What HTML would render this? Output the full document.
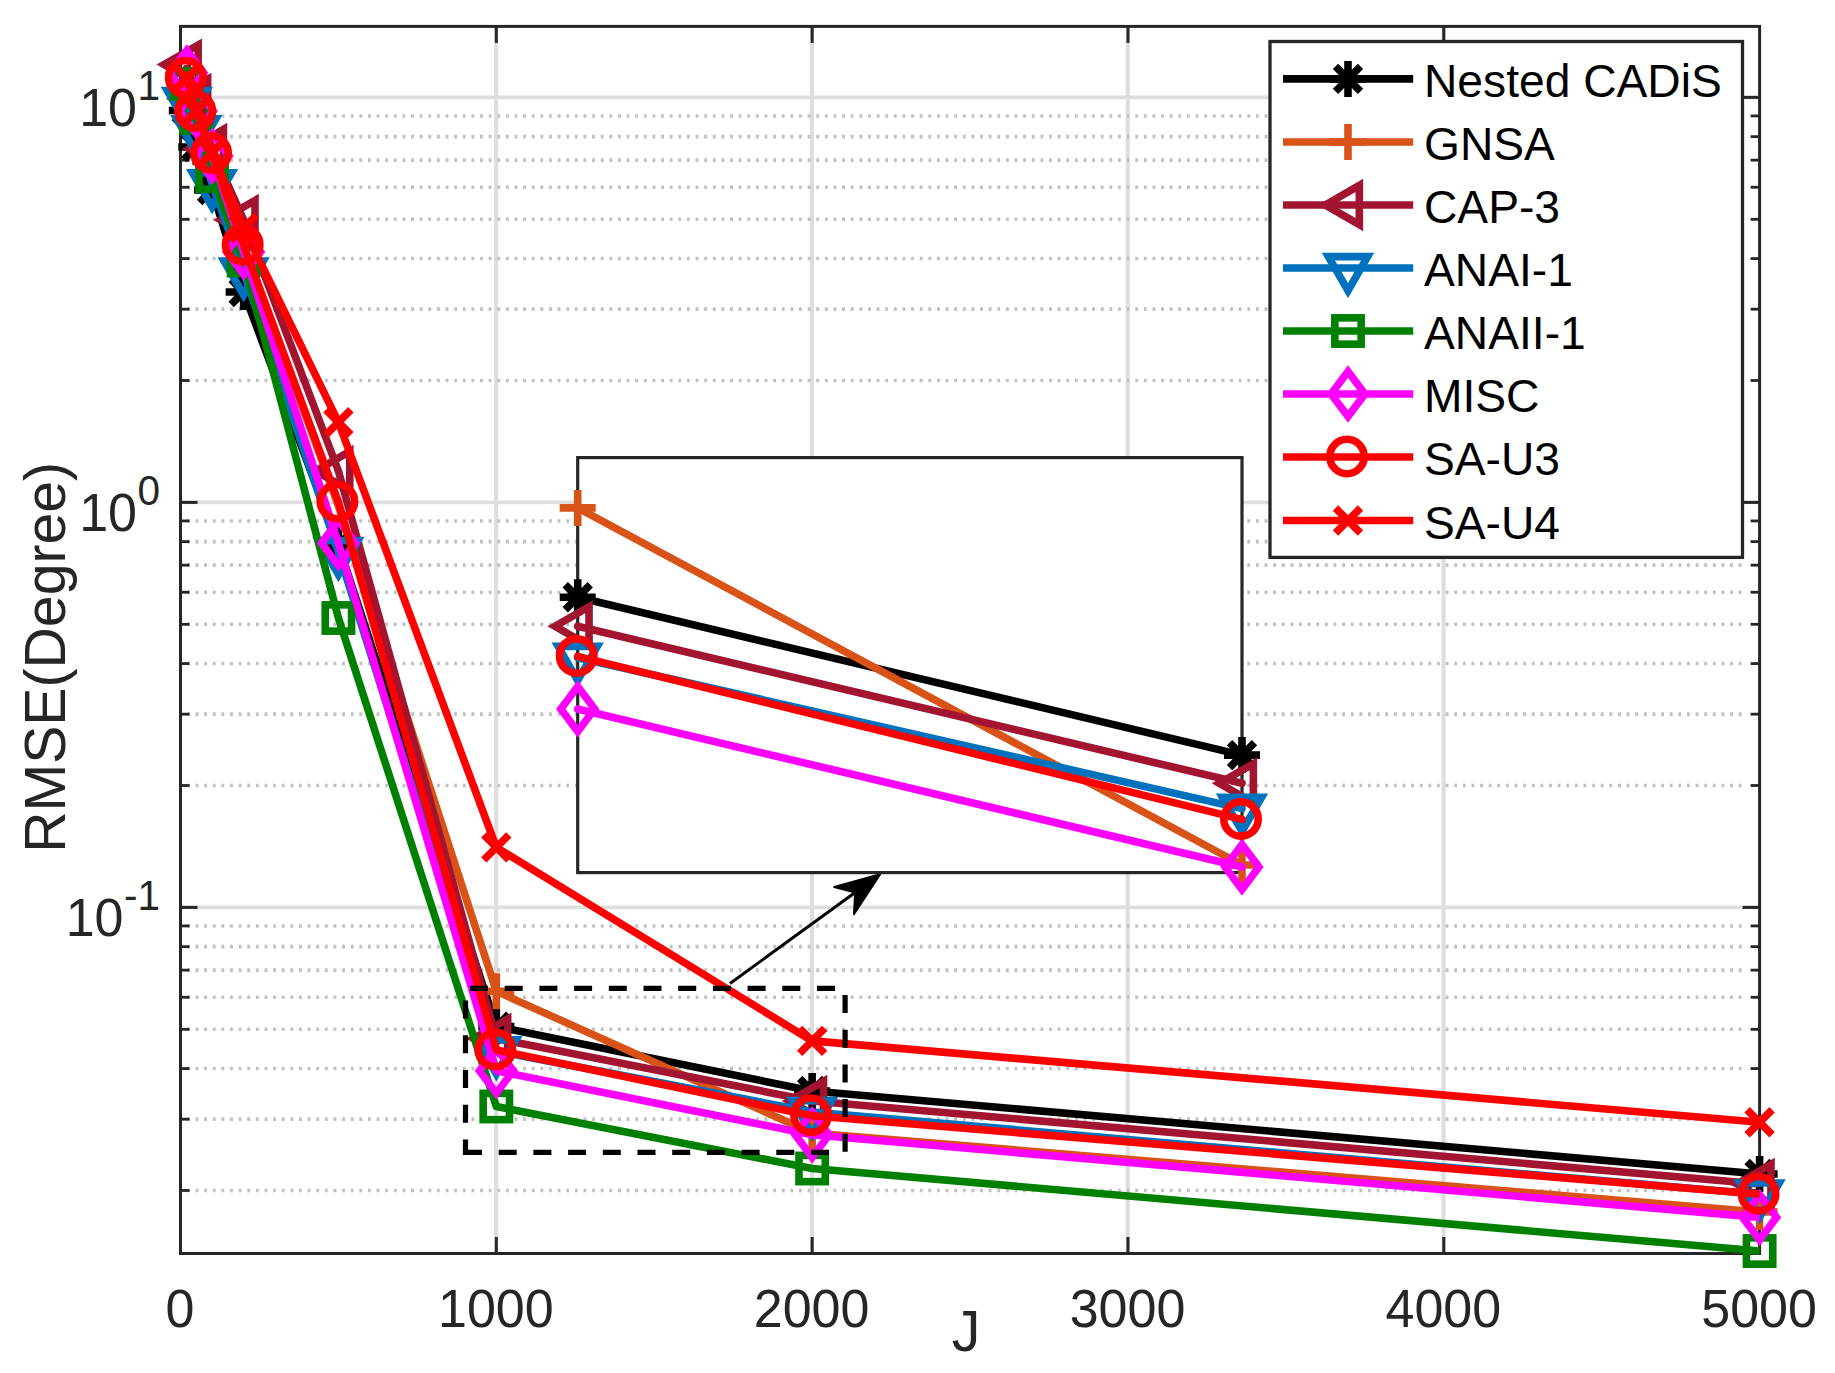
<!DOCTYPE html>
<html lang="en"><head><meta charset="utf-8"><title>RMSE versus J</title>
<style>html,body{margin:0;padding:0;background:#fff}body{width:1835px;height:1373px;overflow:hidden}</style>
</head><body>
<svg width="1835" height="1373" viewBox="0 0 1835 1373" style="display:block">
<rect x="0" y="0" width="1835" height="1373" fill="#fff"/>
<g id="grid">
<line x1="496.12" y1="26.4" x2="496.12" y2="1253.5" stroke="#dedede" stroke-width="4.1"/>
<line x1="811.94" y1="26.4" x2="811.94" y2="1253.5" stroke="#dedede" stroke-width="4.1"/>
<line x1="1127.76" y1="26.4" x2="1127.76" y2="1253.5" stroke="#dedede" stroke-width="4.1"/>
<line x1="1443.58" y1="26.4" x2="1443.58" y2="1253.5" stroke="#dedede" stroke-width="4.1"/>
<line x1="180.5" y1="97.40" x2="1759.6" y2="97.40" stroke="#dedede" stroke-width="3.6"/>
<line x1="180.5" y1="502.40" x2="1759.6" y2="502.40" stroke="#dedede" stroke-width="3.6"/>
<line x1="180.5" y1="907.40" x2="1759.6" y2="907.40" stroke="#dedede" stroke-width="3.6"/>
<line x1="186.92" y1="1190.48" x2="1745" y2="1190.48" stroke="#c2c2c2" stroke-width="3.6" stroke-dasharray="2.9 5.721"/>
<line x1="186.92" y1="1119.17" x2="1745" y2="1119.17" stroke="#c2c2c2" stroke-width="3.6" stroke-dasharray="2.9 5.721"/>
<line x1="186.92" y1="1068.57" x2="1745" y2="1068.57" stroke="#c2c2c2" stroke-width="3.6" stroke-dasharray="2.9 5.721"/>
<line x1="186.92" y1="1029.32" x2="1745" y2="1029.32" stroke="#c2c2c2" stroke-width="3.6" stroke-dasharray="2.9 5.721"/>
<line x1="186.92" y1="997.25" x2="1745" y2="997.25" stroke="#c2c2c2" stroke-width="3.6" stroke-dasharray="2.9 5.721"/>
<line x1="186.92" y1="970.14" x2="1745" y2="970.14" stroke="#c2c2c2" stroke-width="3.6" stroke-dasharray="2.9 5.721"/>
<line x1="186.92" y1="946.65" x2="1745" y2="946.65" stroke="#c2c2c2" stroke-width="3.6" stroke-dasharray="2.9 5.721"/>
<line x1="186.92" y1="925.93" x2="1745" y2="925.93" stroke="#c2c2c2" stroke-width="3.6" stroke-dasharray="2.9 5.721"/>
<line x1="186.92" y1="785.48" x2="1745" y2="785.48" stroke="#c2c2c2" stroke-width="3.6" stroke-dasharray="2.9 5.721"/>
<line x1="186.92" y1="714.17" x2="1745" y2="714.17" stroke="#c2c2c2" stroke-width="3.6" stroke-dasharray="2.9 5.721"/>
<line x1="186.92" y1="663.57" x2="1745" y2="663.57" stroke="#c2c2c2" stroke-width="3.6" stroke-dasharray="2.9 5.721"/>
<line x1="186.92" y1="624.32" x2="1745" y2="624.32" stroke="#c2c2c2" stroke-width="3.6" stroke-dasharray="2.9 5.721"/>
<line x1="186.92" y1="592.25" x2="1745" y2="592.25" stroke="#c2c2c2" stroke-width="3.6" stroke-dasharray="2.9 5.721"/>
<line x1="186.92" y1="565.14" x2="1745" y2="565.14" stroke="#c2c2c2" stroke-width="3.6" stroke-dasharray="2.9 5.721"/>
<line x1="186.92" y1="541.65" x2="1745" y2="541.65" stroke="#c2c2c2" stroke-width="3.6" stroke-dasharray="2.9 5.721"/>
<line x1="186.92" y1="520.93" x2="1745" y2="520.93" stroke="#c2c2c2" stroke-width="3.6" stroke-dasharray="2.9 5.721"/>
<line x1="186.92" y1="380.48" x2="1745" y2="380.48" stroke="#c2c2c2" stroke-width="3.6" stroke-dasharray="2.9 5.721"/>
<line x1="186.92" y1="309.17" x2="1745" y2="309.17" stroke="#c2c2c2" stroke-width="3.6" stroke-dasharray="2.9 5.721"/>
<line x1="186.92" y1="258.57" x2="1745" y2="258.57" stroke="#c2c2c2" stroke-width="3.6" stroke-dasharray="2.9 5.721"/>
<line x1="186.92" y1="219.32" x2="1745" y2="219.32" stroke="#c2c2c2" stroke-width="3.6" stroke-dasharray="2.9 5.721"/>
<line x1="186.92" y1="187.25" x2="1745" y2="187.25" stroke="#c2c2c2" stroke-width="3.6" stroke-dasharray="2.9 5.721"/>
<line x1="186.92" y1="160.14" x2="1745" y2="160.14" stroke="#c2c2c2" stroke-width="3.6" stroke-dasharray="2.9 5.721"/>
<line x1="186.92" y1="136.65" x2="1745" y2="136.65" stroke="#c2c2c2" stroke-width="3.6" stroke-dasharray="2.9 5.721"/>
<line x1="186.92" y1="115.93" x2="1745" y2="115.93" stroke="#c2c2c2" stroke-width="3.6" stroke-dasharray="2.9 5.721"/>
</g>
<g id="axes" stroke="#262626" stroke-width="3" fill="none">
<rect x="180.5" y="26.4" width="1579.1" height="1227.1"/>
<line x1="496.32" y1="1253.5" x2="496.32" y2="1237.0"/>
<line x1="496.32" y1="26.4" x2="496.32" y2="42.9"/>
<line x1="812.14" y1="1253.5" x2="812.14" y2="1237.0"/>
<line x1="812.14" y1="26.4" x2="812.14" y2="42.9"/>
<line x1="1127.96" y1="1253.5" x2="1127.96" y2="1237.0"/>
<line x1="1127.96" y1="26.4" x2="1127.96" y2="42.9"/>
<line x1="1443.78" y1="1253.5" x2="1443.78" y2="1237.0"/>
<line x1="1443.78" y1="26.4" x2="1443.78" y2="42.9"/>
<line x1="180.5" y1="97.40" x2="197.5" y2="97.40"/>
<line x1="1759.6" y1="97.40" x2="1742.6" y2="97.40"/>
<line x1="180.5" y1="502.40" x2="197.5" y2="502.40"/>
<line x1="1759.6" y1="502.40" x2="1742.6" y2="502.40"/>
<line x1="180.5" y1="907.40" x2="197.5" y2="907.40"/>
<line x1="1759.6" y1="907.40" x2="1742.6" y2="907.40"/>
<line x1="180.5" y1="1190.48" x2="189.5" y2="1190.48" stroke-width="2.8"/>
<line x1="1759.6" y1="1190.48" x2="1750.6" y2="1190.48" stroke-width="2.8"/>
<line x1="180.5" y1="1119.17" x2="189.5" y2="1119.17" stroke-width="2.8"/>
<line x1="1759.6" y1="1119.17" x2="1750.6" y2="1119.17" stroke-width="2.8"/>
<line x1="180.5" y1="1068.57" x2="189.5" y2="1068.57" stroke-width="2.8"/>
<line x1="1759.6" y1="1068.57" x2="1750.6" y2="1068.57" stroke-width="2.8"/>
<line x1="180.5" y1="1029.32" x2="189.5" y2="1029.32" stroke-width="2.8"/>
<line x1="1759.6" y1="1029.32" x2="1750.6" y2="1029.32" stroke-width="2.8"/>
<line x1="180.5" y1="997.25" x2="189.5" y2="997.25" stroke-width="2.8"/>
<line x1="1759.6" y1="997.25" x2="1750.6" y2="997.25" stroke-width="2.8"/>
<line x1="180.5" y1="970.14" x2="189.5" y2="970.14" stroke-width="2.8"/>
<line x1="1759.6" y1="970.14" x2="1750.6" y2="970.14" stroke-width="2.8"/>
<line x1="180.5" y1="946.65" x2="189.5" y2="946.65" stroke-width="2.8"/>
<line x1="1759.6" y1="946.65" x2="1750.6" y2="946.65" stroke-width="2.8"/>
<line x1="180.5" y1="925.93" x2="189.5" y2="925.93" stroke-width="2.8"/>
<line x1="1759.6" y1="925.93" x2="1750.6" y2="925.93" stroke-width="2.8"/>
<line x1="180.5" y1="785.48" x2="189.5" y2="785.48" stroke-width="2.8"/>
<line x1="1759.6" y1="785.48" x2="1750.6" y2="785.48" stroke-width="2.8"/>
<line x1="180.5" y1="714.17" x2="189.5" y2="714.17" stroke-width="2.8"/>
<line x1="1759.6" y1="714.17" x2="1750.6" y2="714.17" stroke-width="2.8"/>
<line x1="180.5" y1="663.57" x2="189.5" y2="663.57" stroke-width="2.8"/>
<line x1="1759.6" y1="663.57" x2="1750.6" y2="663.57" stroke-width="2.8"/>
<line x1="180.5" y1="624.32" x2="189.5" y2="624.32" stroke-width="2.8"/>
<line x1="1759.6" y1="624.32" x2="1750.6" y2="624.32" stroke-width="2.8"/>
<line x1="180.5" y1="592.25" x2="189.5" y2="592.25" stroke-width="2.8"/>
<line x1="1759.6" y1="592.25" x2="1750.6" y2="592.25" stroke-width="2.8"/>
<line x1="180.5" y1="565.14" x2="189.5" y2="565.14" stroke-width="2.8"/>
<line x1="1759.6" y1="565.14" x2="1750.6" y2="565.14" stroke-width="2.8"/>
<line x1="180.5" y1="541.65" x2="189.5" y2="541.65" stroke-width="2.8"/>
<line x1="1759.6" y1="541.65" x2="1750.6" y2="541.65" stroke-width="2.8"/>
<line x1="180.5" y1="520.93" x2="189.5" y2="520.93" stroke-width="2.8"/>
<line x1="1759.6" y1="520.93" x2="1750.6" y2="520.93" stroke-width="2.8"/>
<line x1="180.5" y1="380.48" x2="189.5" y2="380.48" stroke-width="2.8"/>
<line x1="1759.6" y1="380.48" x2="1750.6" y2="380.48" stroke-width="2.8"/>
<line x1="180.5" y1="309.17" x2="189.5" y2="309.17" stroke-width="2.8"/>
<line x1="1759.6" y1="309.17" x2="1750.6" y2="309.17" stroke-width="2.8"/>
<line x1="180.5" y1="258.57" x2="189.5" y2="258.57" stroke-width="2.8"/>
<line x1="1759.6" y1="258.57" x2="1750.6" y2="258.57" stroke-width="2.8"/>
<line x1="180.5" y1="219.32" x2="189.5" y2="219.32" stroke-width="2.8"/>
<line x1="1759.6" y1="219.32" x2="1750.6" y2="219.32" stroke-width="2.8"/>
<line x1="180.5" y1="187.25" x2="189.5" y2="187.25" stroke-width="2.8"/>
<line x1="1759.6" y1="187.25" x2="1750.6" y2="187.25" stroke-width="2.8"/>
<line x1="180.5" y1="160.14" x2="189.5" y2="160.14" stroke-width="2.8"/>
<line x1="1759.6" y1="160.14" x2="1750.6" y2="160.14" stroke-width="2.8"/>
<line x1="180.5" y1="136.65" x2="189.5" y2="136.65" stroke-width="2.8"/>
<line x1="1759.6" y1="136.65" x2="1750.6" y2="136.65" stroke-width="2.8"/>
<line x1="180.5" y1="115.93" x2="189.5" y2="115.93" stroke-width="2.8"/>
<line x1="1759.6" y1="115.93" x2="1750.6" y2="115.93" stroke-width="2.8"/>
</g>
<g id="series" stroke-linejoin="round" stroke-linecap="butt">
<polyline points="186.82,110.50 196.29,147.00 212.08,190.00 243.66,292.00 338.41,545.00 496.32,1026.60 812.14,1091.00 1759.60,1174.00" fill="none" stroke="#000000" stroke-width="7.6" stroke-linejoin="round"/>
<path d="M168.82,110.50H204.82M186.82,92.50V128.50M174.32,98.00L199.32,123.00M174.32,123.00L199.32,98.00" stroke="#000000" stroke-width="7.6" fill="none" stroke-linejoin="miter"/>
<path d="M178.29,147.00H214.29M196.29,129.00V165.00M183.79,134.50L208.79,159.50M183.79,159.50L208.79,134.50" stroke="#000000" stroke-width="7.6" fill="none" stroke-linejoin="miter"/>
<path d="M194.08,190.00H230.08M212.08,172.00V208.00M199.58,177.50L224.58,202.50M199.58,202.50L224.58,177.50" stroke="#000000" stroke-width="7.6" fill="none" stroke-linejoin="miter"/>
<path d="M225.66,292.00H261.66M243.66,274.00V310.00M231.16,279.50L256.16,304.50M231.16,304.50L256.16,279.50" stroke="#000000" stroke-width="7.6" fill="none" stroke-linejoin="miter"/>
<path d="M320.41,545.00H356.41M338.41,527.00V563.00M325.91,532.50L350.91,557.50M325.91,557.50L350.91,532.50" stroke="#000000" stroke-width="7.6" fill="none" stroke-linejoin="miter"/>
<path d="M478.32,1026.60H514.32M496.32,1008.60V1044.60M483.82,1014.10L508.82,1039.10M483.82,1039.10L508.82,1014.10" stroke="#000000" stroke-width="7.6" fill="none" stroke-linejoin="miter"/>
<path d="M794.14,1091.00H830.14M812.14,1073.00V1109.00M799.64,1078.50L824.64,1103.50M799.64,1103.50L824.64,1078.50" stroke="#000000" stroke-width="7.6" fill="none" stroke-linejoin="miter"/>
<path d="M1741.60,1174.00H1777.60M1759.60,1156.00V1192.00M1747.10,1161.50L1772.10,1186.50M1747.10,1186.50L1772.10,1161.50" stroke="#000000" stroke-width="7.6" fill="none" stroke-linejoin="miter"/>
<polyline points="186.82,79.00 196.29,112.50 212.08,154.50 243.66,246.00 338.41,506.00 496.32,991.30 812.14,1133.00 1759.60,1212.00" fill="none" stroke="#D95319" stroke-width="7.6" stroke-linejoin="round"/>
<path d="M478.32,991.30H514.32M496.32,973.30V1009.30" stroke="#D95319" stroke-width="7.6" fill="none" stroke-linejoin="miter"/>
<path d="M794.14,1133.00H830.14M812.14,1115.00V1151.00" stroke="#D95319" stroke-width="7.6" fill="none" stroke-linejoin="miter"/>
<path d="M1741.60,1212.00H1777.60M1759.60,1194.00V1230.00" stroke="#D95319" stroke-width="7.6" fill="none" stroke-linejoin="miter"/>
<polyline points="186.82,64.60 196.29,99.00 212.08,149.00 243.66,220.00 338.41,471.00 496.32,1038.60 812.14,1101.00 1759.60,1184.00" fill="none" stroke="#A2142F" stroke-width="7.6" stroke-linejoin="round"/>
<path d="M164.12,64.60L198.17,45.00V84.20Z" stroke="#A2142F" stroke-width="7.6" fill="none" stroke-linejoin="miter" stroke-miterlimit="10"/>
<path d="M173.59,99.00L207.64,79.40V118.60Z" stroke="#A2142F" stroke-width="7.6" fill="none" stroke-linejoin="miter" stroke-miterlimit="10"/>
<path d="M189.38,149.00L223.43,129.40V168.60Z" stroke="#A2142F" stroke-width="7.6" fill="none" stroke-linejoin="miter" stroke-miterlimit="10"/>
<path d="M220.96,220.00L255.01,200.40V239.60Z" stroke="#A2142F" stroke-width="7.6" fill="none" stroke-linejoin="miter" stroke-miterlimit="10"/>
<path d="M315.71,471.00L349.76,451.40V490.60Z" stroke="#A2142F" stroke-width="7.6" fill="none" stroke-linejoin="miter" stroke-miterlimit="10"/>
<path d="M473.62,1038.60L507.67,1019.00V1058.20Z" stroke="#A2142F" stroke-width="7.6" fill="none" stroke-linejoin="miter" stroke-miterlimit="10"/>
<path d="M789.44,1101.00L823.49,1081.40V1120.60Z" stroke="#A2142F" stroke-width="7.6" fill="none" stroke-linejoin="miter" stroke-miterlimit="10"/>
<path d="M1736.90,1184.00L1770.95,1164.40V1203.60Z" stroke="#A2142F" stroke-width="7.6" fill="none" stroke-linejoin="miter" stroke-miterlimit="10"/>
<polyline points="186.82,102.00 196.29,130.20 212.08,184.20 243.66,272.30 338.41,552.00 496.32,1051.20 812.14,1112.00 1759.60,1194.30" fill="none" stroke="#0072BD" stroke-width="7.6" stroke-linejoin="round"/>
<path d="M186.82,124.70L167.22,90.65H206.42Z" stroke="#0072BD" stroke-width="7.6" fill="none" stroke-linejoin="miter" stroke-miterlimit="10"/>
<path d="M196.29,152.90L176.69,118.85H215.89Z" stroke="#0072BD" stroke-width="7.6" fill="none" stroke-linejoin="miter" stroke-miterlimit="10"/>
<path d="M212.08,206.90L192.48,172.85H231.68Z" stroke="#0072BD" stroke-width="7.6" fill="none" stroke-linejoin="miter" stroke-miterlimit="10"/>
<path d="M243.66,295.00L224.06,260.95H263.26Z" stroke="#0072BD" stroke-width="7.6" fill="none" stroke-linejoin="miter" stroke-miterlimit="10"/>
<path d="M338.41,574.70L318.81,540.65H358.01Z" stroke="#0072BD" stroke-width="7.6" fill="none" stroke-linejoin="miter" stroke-miterlimit="10"/>
<path d="M496.32,1073.90L476.72,1039.85H515.92Z" stroke="#0072BD" stroke-width="7.6" fill="none" stroke-linejoin="miter" stroke-miterlimit="10"/>
<path d="M812.14,1134.70L792.54,1100.65H831.74Z" stroke="#0072BD" stroke-width="7.6" fill="none" stroke-linejoin="miter" stroke-miterlimit="10"/>
<path d="M1759.60,1217.00L1740.00,1182.95H1779.20Z" stroke="#0072BD" stroke-width="7.6" fill="none" stroke-linejoin="miter" stroke-miterlimit="10"/>
<polyline points="186.82,84.00 196.29,118.00 212.08,176.00 243.66,260.50 338.41,618.00 496.32,1106.50 812.14,1168.50 1759.60,1251.00" fill="none" stroke="#008000" stroke-width="7.6" stroke-linejoin="round"/>
<rect x="173.67" y="70.85" width="26.3" height="26.3" stroke="#008000" stroke-width="7.6" fill="none" stroke-linejoin="miter"/>
<rect x="183.14" y="104.85" width="26.3" height="26.3" stroke="#008000" stroke-width="7.6" fill="none" stroke-linejoin="miter"/>
<rect x="198.93" y="162.85" width="26.3" height="26.3" stroke="#008000" stroke-width="7.6" fill="none" stroke-linejoin="miter"/>
<rect x="230.51" y="247.35" width="26.3" height="26.3" stroke="#008000" stroke-width="7.6" fill="none" stroke-linejoin="miter"/>
<rect x="325.26" y="604.85" width="26.3" height="26.3" stroke="#008000" stroke-width="7.6" fill="none" stroke-linejoin="miter"/>
<rect x="483.17" y="1093.35" width="26.3" height="26.3" stroke="#008000" stroke-width="7.6" fill="none" stroke-linejoin="miter"/>
<rect x="798.99" y="1155.35" width="26.3" height="26.3" stroke="#008000" stroke-width="7.6" fill="none" stroke-linejoin="miter"/>
<rect x="1746.45" y="1237.85" width="26.3" height="26.3" stroke="#008000" stroke-width="7.6" fill="none" stroke-linejoin="miter"/>
<polyline points="186.82,73.00 196.29,111.00 212.08,156.00 243.66,252.00 338.41,543.00 496.32,1070.70 812.14,1134.80 1759.60,1217.40" fill="none" stroke="#FF00FF" stroke-width="7.6" stroke-linejoin="round"/>
<path d="M186.82,50.50L203.72,73.00L186.82,95.50L169.92,73.00Z" stroke="#FF00FF" stroke-width="7.6" fill="none" stroke-linejoin="miter" stroke-miterlimit="10"/>
<path d="M196.29,88.50L213.19,111.00L196.29,133.50L179.39,111.00Z" stroke="#FF00FF" stroke-width="7.6" fill="none" stroke-linejoin="miter" stroke-miterlimit="10"/>
<path d="M212.08,133.50L228.98,156.00L212.08,178.50L195.18,156.00Z" stroke="#FF00FF" stroke-width="7.6" fill="none" stroke-linejoin="miter" stroke-miterlimit="10"/>
<path d="M243.66,229.50L260.56,252.00L243.66,274.50L226.76,252.00Z" stroke="#FF00FF" stroke-width="7.6" fill="none" stroke-linejoin="miter" stroke-miterlimit="10"/>
<path d="M338.41,520.50L355.31,543.00L338.41,565.50L321.51,543.00Z" stroke="#FF00FF" stroke-width="7.6" fill="none" stroke-linejoin="miter" stroke-miterlimit="10"/>
<path d="M496.32,1048.20L513.22,1070.70L496.32,1093.20L479.42,1070.70Z" stroke="#FF00FF" stroke-width="7.6" fill="none" stroke-linejoin="miter" stroke-miterlimit="10"/>
<path d="M812.14,1112.30L829.04,1134.80L812.14,1157.30L795.24,1134.80Z" stroke="#FF00FF" stroke-width="7.6" fill="none" stroke-linejoin="miter" stroke-miterlimit="10"/>
<path d="M1759.60,1194.90L1776.50,1217.40L1759.60,1239.90L1742.70,1217.40Z" stroke="#FF00FF" stroke-width="7.6" fill="none" stroke-linejoin="miter" stroke-miterlimit="10"/>
<polyline points="186.82,78.20 196.29,111.50 212.08,153.50 243.66,245.00 338.41,502.00 496.32,1050.00 812.14,1115.70 1759.60,1194.20" fill="none" stroke="#FF0000" stroke-width="7.6" stroke-linejoin="round"/>
<circle cx="185.82" cy="77.70" r="17.2" stroke="#FF0000" stroke-width="7.6" fill="none" stroke-linejoin="miter"/>
<circle cx="195.29" cy="111.00" r="17.2" stroke="#FF0000" stroke-width="7.6" fill="none" stroke-linejoin="miter"/>
<circle cx="211.08" cy="153.00" r="17.2" stroke="#FF0000" stroke-width="7.6" fill="none" stroke-linejoin="miter"/>
<circle cx="242.66" cy="244.50" r="17.2" stroke="#FF0000" stroke-width="7.6" fill="none" stroke-linejoin="miter"/>
<circle cx="337.41" cy="501.50" r="17.2" stroke="#FF0000" stroke-width="7.6" fill="none" stroke-linejoin="miter"/>
<circle cx="495.32" cy="1049.50" r="17.2" stroke="#FF0000" stroke-width="7.6" fill="none" stroke-linejoin="miter"/>
<circle cx="811.14" cy="1115.20" r="17.2" stroke="#FF0000" stroke-width="7.6" fill="none" stroke-linejoin="miter"/>
<circle cx="1758.60" cy="1193.70" r="17.2" stroke="#FF0000" stroke-width="7.6" fill="none" stroke-linejoin="miter"/>
<polyline points="186.82,78.00 196.29,110.80 212.08,152.50 243.66,228.00 338.41,422.20 496.32,847.40 812.14,1040.90 1759.60,1122.20" fill="none" stroke="#FF0000" stroke-width="7.6" stroke-linejoin="round"/>
<path d="M174.32,65.50L199.32,90.50M174.32,90.50L199.32,65.50" stroke="#FF0000" stroke-width="7.6" fill="none" stroke-linejoin="miter"/>
<path d="M183.79,98.30L208.79,123.30M183.79,123.30L208.79,98.30" stroke="#FF0000" stroke-width="7.6" fill="none" stroke-linejoin="miter"/>
<path d="M199.58,140.00L224.58,165.00M199.58,165.00L224.58,140.00" stroke="#FF0000" stroke-width="7.6" fill="none" stroke-linejoin="miter"/>
<path d="M231.16,215.50L256.16,240.50M231.16,240.50L256.16,215.50" stroke="#FF0000" stroke-width="7.6" fill="none" stroke-linejoin="miter"/>
<path d="M325.91,409.70L350.91,434.70M325.91,434.70L350.91,409.70" stroke="#FF0000" stroke-width="7.6" fill="none" stroke-linejoin="miter"/>
<path d="M483.82,834.90L508.82,859.90M483.82,859.90L508.82,834.90" stroke="#FF0000" stroke-width="7.6" fill="none" stroke-linejoin="miter"/>
<path d="M799.64,1028.40L824.64,1053.40M799.64,1053.40L824.64,1028.40" stroke="#FF0000" stroke-width="7.6" fill="none" stroke-linejoin="miter"/>
<path d="M1747.10,1109.70L1772.10,1134.70M1747.10,1134.70L1772.10,1109.70" stroke="#FF0000" stroke-width="7.6" fill="none" stroke-linejoin="miter"/>
</g>
<path d="M465.5,1152.4V988.4H845.1V1152.4H465.5" fill="none" stroke="#000" stroke-width="5.2" stroke-dasharray="18 16.7" stroke-dashoffset="5"/>
<rect x="462.9" y="1149.8" width="5.2" height="5.2" fill="#000"/>
<line x1="730.0" y1="983.5" x2="855.13" y2="892.44" stroke="#000" stroke-width="3"/>
<path d="M880.2,874.2L853.94,914.09L855.13,892.44L834.17,886.92Z" fill="#000" stroke="#000" stroke-width="2" stroke-linejoin="round"/>
<rect x="577.7" y="457.6" width="664.3" height="415.0" fill="#fff" stroke="#262626" stroke-width="3.2"/>
<g id="inset">
<line x1="577.7" y1="597.3" x2="1242.0" y2="755.1" stroke="#000000" stroke-width="7.6" stroke-linecap="round"/>
<path d="M559.70,597.30H595.70M577.70,579.30V615.30M565.20,584.80L590.20,609.80M565.20,609.80L590.20,584.80" stroke="#000000" stroke-width="7.6" fill="none" stroke-linejoin="miter"/>
<path d="M1224.00,755.10H1260.00M1242.00,737.10V773.10M1229.50,742.60L1254.50,767.60M1229.50,767.60L1254.50,742.60" stroke="#000000" stroke-width="7.6" fill="none" stroke-linejoin="miter"/>
<line x1="577.7" y1="507.9" x2="1242.0" y2="865" stroke="#D95319" stroke-width="7.6" stroke-linecap="round"/>
<path d="M559.70,507.90H595.70M577.70,489.90V525.90" stroke="#D95319" stroke-width="7.6" fill="none" stroke-linejoin="miter"/>
<path d="M1224.00,865.00H1260.00M1242.00,847.00V883.00" stroke="#D95319" stroke-width="7.6" fill="none" stroke-linejoin="miter"/>
<line x1="577.7" y1="626.3" x2="1242.0" y2="783.3" stroke="#A2142F" stroke-width="7.6" stroke-linecap="round"/>
<path d="M555.00,626.30L589.05,606.70V645.90Z" stroke="#A2142F" stroke-width="7.6" fill="none" stroke-linejoin="miter" stroke-miterlimit="10"/>
<path d="M1219.30,783.30L1253.35,763.70V802.90Z" stroke="#A2142F" stroke-width="7.6" fill="none" stroke-linejoin="miter" stroke-miterlimit="10"/>
<line x1="577.7" y1="657.7" x2="1242.0" y2="808.6" stroke="#0072BD" stroke-width="7.6" stroke-linecap="round"/>
<path d="M577.70,680.40L558.10,646.35H597.30Z" stroke="#0072BD" stroke-width="7.6" fill="none" stroke-linejoin="miter" stroke-miterlimit="10"/>
<path d="M1242.00,831.30L1222.40,797.25H1261.60Z" stroke="#0072BD" stroke-width="7.6" fill="none" stroke-linejoin="miter" stroke-miterlimit="10"/>
<line x1="577.7" y1="709" x2="1242.0" y2="867" stroke="#FF00FF" stroke-width="7.6" stroke-linecap="round"/>
<path d="M577.70,686.50L594.60,709.00L577.70,731.50L560.80,709.00Z" stroke="#FF00FF" stroke-width="7.6" fill="none" stroke-linejoin="miter" stroke-miterlimit="10"/>
<path d="M1242.00,844.50L1258.90,867.00L1242.00,889.50L1225.10,867.00Z" stroke="#FF00FF" stroke-width="7.6" fill="none" stroke-linejoin="miter" stroke-miterlimit="10"/>
<line x1="577.7" y1="656.4" x2="1242.0" y2="819.4" stroke="#FF0000" stroke-width="7.6" stroke-linecap="round"/>
<circle cx="576.70" cy="655.90" r="17.2" stroke="#FF0000" stroke-width="7.6" fill="none" stroke-linejoin="miter"/>
<circle cx="1241.00" cy="818.90" r="17.2" stroke="#FF0000" stroke-width="7.6" fill="none" stroke-linejoin="miter"/>
</g>
<rect x="1270.0" y="41.5" width="472.5" height="515.9" fill="#fff" stroke="#262626" stroke-width="3.3"/>
<g id="legend" font-family="'Liberation Sans', sans-serif" font-size="46.2" fill="#000">
<line x1="1283" y1="78.9" x2="1413.2" y2="78.9" stroke="#000000" stroke-width="7.6"/>
<path d="M1330.00,78.90H1366.00M1348.00,60.90V96.90M1335.50,66.40L1360.50,91.40M1335.50,91.40L1360.50,66.40" stroke="#000000" stroke-width="7.6" fill="none" stroke-linejoin="miter"/>
<text x="1424" y="96.9">Nested CADiS</text>
<line x1="1283" y1="142" x2="1413.2" y2="142" stroke="#D95319" stroke-width="7.6"/>
<path d="M1330.00,142.00H1366.00M1348.00,124.00V160.00" stroke="#D95319" stroke-width="7.6" fill="none" stroke-linejoin="miter"/>
<text x="1424" y="160.0">GNSA</text>
<line x1="1283" y1="205" x2="1413.2" y2="205" stroke="#A2142F" stroke-width="7.6"/>
<path d="M1325.30,205.00L1359.35,185.40V224.60Z" stroke="#A2142F" stroke-width="7.6" fill="none" stroke-linejoin="miter" stroke-miterlimit="10"/>
<text x="1424" y="223.0">CAP-3</text>
<line x1="1283" y1="268" x2="1413.2" y2="268" stroke="#0072BD" stroke-width="7.6"/>
<path d="M1348.00,290.70L1328.40,256.65H1367.60Z" stroke="#0072BD" stroke-width="7.6" fill="none" stroke-linejoin="miter" stroke-miterlimit="10"/>
<text x="1424" y="286.0">ANAI-1</text>
<line x1="1283" y1="331" x2="1413.2" y2="331" stroke="#008000" stroke-width="7.6"/>
<rect x="1334.85" y="317.85" width="26.3" height="26.3" stroke="#008000" stroke-width="7.6" fill="none" stroke-linejoin="miter"/>
<text x="1424" y="349.0">ANAII-1</text>
<line x1="1283" y1="394" x2="1413.2" y2="394" stroke="#FF00FF" stroke-width="7.6"/>
<path d="M1348.00,371.50L1364.90,394.00L1348.00,416.50L1331.10,394.00Z" stroke="#FF00FF" stroke-width="7.6" fill="none" stroke-linejoin="miter" stroke-miterlimit="10"/>
<text x="1424" y="412.0">MISC</text>
<line x1="1283" y1="457" x2="1413.2" y2="457" stroke="#FF0000" stroke-width="7.6"/>
<circle cx="1347.00" cy="456.50" r="17.2" stroke="#FF0000" stroke-width="7.6" fill="none" stroke-linejoin="miter"/>
<text x="1424" y="475.0">SA-U3</text>
<line x1="1283" y1="520.5" x2="1413.2" y2="520.5" stroke="#FF0000" stroke-width="7.6"/>
<path d="M1335.50,508.00L1360.50,533.00M1335.50,533.00L1360.50,508.00" stroke="#FF0000" stroke-width="7.6" fill="none" stroke-linejoin="miter"/>
<text x="1424" y="538.5">SA-U4</text>
</g>
<g id="ticklabels" font-family="'Liberation Sans', sans-serif" font-size="52" fill="#262626">
<text transform="translate(180.0,1326.5) scale(1,1.04)" text-anchor="middle">0</text>
<text transform="translate(495.8,1326.5) scale(1,1.04)" text-anchor="middle">1000</text>
<text transform="translate(811.6,1326.5) scale(1,1.04)" text-anchor="middle">2000</text>
<text transform="translate(1127.5,1326.5) scale(1,1.04)" text-anchor="middle">3000</text>
<text transform="translate(1443.3,1326.5) scale(1,1.04)" text-anchor="middle">4000</text>
<text transform="translate(1759.1,1326.5) scale(1,1.04)" text-anchor="middle">5000</text>
<text transform="translate(160.2,125.9) scale(1,1.04)" text-anchor="end">10<tspan font-size="40.6" dy="-25" dx="0.6">1</tspan></text>
<text transform="translate(160.2,530.9) scale(1,1.04)" text-anchor="end">10<tspan font-size="40.6" dy="-25" dx="0.6">0</tspan></text>
<text transform="translate(160.2,935.9) scale(1,1.04)" text-anchor="end">10<tspan font-size="40.6" dy="-25" dx="0.6">-1</tspan></text>
</g>
<g font-family="'Liberation Sans', sans-serif" font-size="57.2" fill="#262626">
<text x="966" y="1350.5" text-anchor="middle">J</text>
<text transform="translate(65,657.3) rotate(-90)" text-anchor="middle">RMSE(Degree)</text>
</g>
</svg>
</body></html>
